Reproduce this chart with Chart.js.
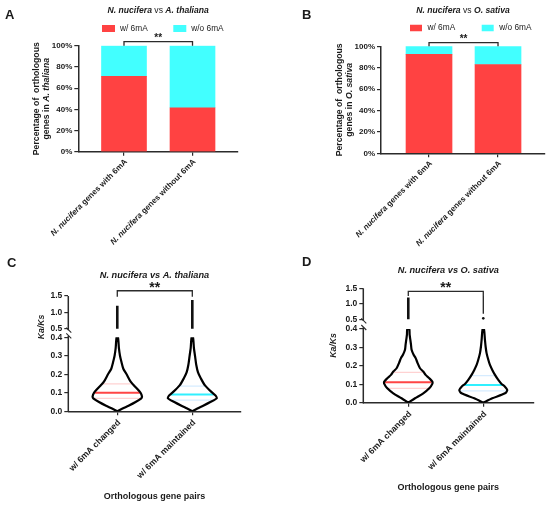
<!DOCTYPE html>
<html><head><meta charset="utf-8">
<script src="https://cdn.jsdelivr.net/npm/chart.js@4.4.1/dist/chart.umd.min.js"></script>
<style>
html,body{margin:0;padding:0;background:#fff;}
body{width:550px;height:508px;position:relative;overflow:hidden;}
canvas{position:absolute;display:block;}
</style></head><body>
<canvas id="cA" width="275" height="250" style="left:0;top:0"></canvas>
<canvas id="cB" width="275" height="250" style="left:275px;top:0"></canvas>
<canvas id="cC" width="275" height="258" style="left:0;top:250px"></canvas>
<canvas id="cD" width="275" height="258" style="left:275px;top:250px"></canvas>
<script>
// ---------------- data ----------------
const speciesPrefix = 'N. nucifera';
const barCategories = [' genes with 6mA', ' genes without 6mA'];
const legendLabels = ['w/ 6mA', 'w/o 6mA'];
const pctWithA = [71, 41.5];
const pctWithoutA = [29, 58.5];
const pctWithB = [92.5, 83];
const pctWithoutB = [7.5, 17];
const pctTicks = [0, 20, 40, 60, 80, 100];

const violinCategories = ['w/ 6mA changed', 'w/ 6mA maintained'];
const kaksLowTicks = [0, 0.1, 0.2, 0.3, 0.4];
const kaksHighTicks = [0.5, 1.0, 1.5];

// Panel C (A. thaliana) violin profiles: Ka/Ks level and half-width (category units)
const cLevels0 = [0, 0.015, 0.03, 0.05, 0.07, 0.08, 0.1, 0.14, 0.16, 0.2, 0.23, 0.27, 0.3, 0.34, 0.4];
const cWidths0 = [0, 0.07, 0.15, 0.244, 0.32, 0.329, 0.311, 0.222, 0.178, 0.124, 0.08, 0.053, 0.036, 0.022, 0.009];
const cLevels1 = [0, 0.015, 0.03, 0.05, 0.07, 0.085, 0.1, 0.14, 0.18, 0.21, 0.25, 0.3, 0.34, 0.4];
const cWidths1 = [0, 0.068, 0.145, 0.24, 0.324, 0.311, 0.267, 0.169, 0.111, 0.076, 0.053, 0.036, 0.022, 0.009];
const cMedians = [0.1, 0.091];
const cQ1 = [0.07, 0.06];
const cQ3 = [0.148, 0.136];
const cOutliers = [[0.5, 1.2], [0.5, 1.38]];

// Panel D (O. sativa)
const dLevels0 = [0, 0.024, 0.051, 0.078, 0.102, 0.115, 0.133, 0.151, 0.169, 0.187, 0.215, 0.242, 0.26, 0.287, 0.315, 0.342, 0.369, 0.4];
const dWidths0 = [0, 0.09, 0.2, 0.28, 0.32, 0.32, 0.28, 0.231, 0.2, 0.156, 0.124, 0.098, 0.071, 0.044, 0.036, 0.027, 0.018, 0.013];
const dLevels1 = [0, 0.024, 0.051, 0.069, 0.087, 0.102, 0.124, 0.151, 0.178, 0.205, 0.233, 0.269, 0.305, 0.342, 0.4];
const dWidths1 = [0, 0.12, 0.29, 0.32, 0.289, 0.244, 0.2, 0.156, 0.12, 0.089, 0.067, 0.044, 0.031, 0.022, 0.009];
const dMedians = [0.111, 0.096];
const dQ1 = [0.078, 0.064];
const dQ3 = [0.165, 0.147];
const dOutliers = [[0.5, 1.2], [0.68, 1.25]];
const dOutlierWidths = [2.6, 1.2];
const dOutlierDots = [null, 0.53];

// ---------------- styling helpers ----------------
const FAM = "'Liberation Sans', Arial, Helvetica, sans-serif";
const TXT = '#1a1a1a', AX = '#2b2b2b', RED = '#FF4242', CYAN = '#42FFFF';
const fnt = (st, sz) => `${st} ${sz}px ${FAM}`;
const seg = (t, s) => ({t, s});

function drawRich(ctx, segs, x, y, size, align, angle) {
  ctx.save();
  ctx.translate(x, y);
  if (angle) ctx.rotate(angle);
  let w = 0;
  for (const s of segs) { ctx.font = fnt(s.s, size); w += ctx.measureText(s.t).width; }
  let cx = align === 'center' ? -w / 2 : (align === 'right' ? -w : 0);
  ctx.textAlign = 'left'; ctx.textBaseline = 'middle'; ctx.fillStyle = TXT;
  for (const s of segs) { ctx.font = fnt(s.s, size); ctx.fillText(s.t, cx, 0); cx += ctx.measureText(s.t).width; }
  ctx.restore();
}

function panelPlugin(p) {
  return {
    id: 'panel' + p.letter,
    afterDraw(chart) {
      const ctx = chart.ctx, ca = chart.chartArea, xs = chart.scales.x;
      const yb = chart.scales[p.bracketAxis];
      const cx = (ca.left + ca.right) / 2;
      ctx.save();
      ctx.fillStyle = TXT; ctx.font = fnt('bold', 13); ctx.textAlign = 'left'; ctx.textBaseline = 'middle';
      ctx.fillText(p.letter, p.letterPos[0], p.letterPos[1]);
      drawRich(ctx, p.title, cx, p.titleY, p.titleSize, 'center');
      if (p.legend) {
        p.legend.items.forEach((it, i) => {
          ctx.fillStyle = it[1];
          ctx.fillRect(it[0], p.legend.y - p.legend.h / 2, p.legend.w, p.legend.h);
          drawRich(ctx, [seg(legendLabels[i], '')], it[0] + p.legend.dx, p.legend.y, p.legend.size, 'left');
        });
      }
      // significance bracket
      const x0 = xs.getPixelForValue(0), x1 = xs.getPixelForValue(1);
      const by = yb.getPixelForValue(p.bracket[0]), ly = yb.getPixelForValue(p.bracket[1]);
      ctx.strokeStyle = AX; ctx.lineWidth = 1.3;
      ctx.beginPath(); ctx.moveTo(x0, ly); ctx.lineTo(x0, by); ctx.lineTo(x1, by); ctx.lineTo(x1, ly); ctx.stroke();
      ctx.fillStyle = TXT; ctx.font = fnt('bold', p.starSize); ctx.textAlign = 'center'; ctx.textBaseline = 'alphabetic';
      ctx.fillText('**', (x0 + x1) / 2, by + p.starDY);
      // y title
      const ycy = p.yTitleCY != null ? p.yTitleCY : (ca.top + ca.bottom) / 2;
      p.yTitle.forEach((line, i) => drawRich(ctx, line, ca.left - p.yTitleOffsets[i], ycy, p.yTitleSize, 'center', -Math.PI / 2));
      // rotated category labels
      p.xLabels.forEach((lab, i) => drawRich(ctx, lab, xs.getPixelForValue(i) + p.xLabelDX, ca.bottom + p.xLabelDY, p.xLabelSize, 'right', -Math.PI / 4));
      if (p.xTitle) drawRich(ctx, [seg(p.xTitle, 'bold')], cx, p.xTitleY, 9, 'center');
      if (p.broken) {
        const yL = chart.scales.y, yH = chart.scales.y2, ax = ca.left;
        const e1 = yH.getPixelForValue(kaksHighTicks[0]) + 1.5, e2 = yL.getPixelForValue(kaksLowTicks[kaksLowTicks.length - 1]) - 1.5;
        ctx.strokeStyle = AX; ctx.lineWidth = 1.5;
        ctx.beginPath();
        ctx.moveTo(ax, yH.getPixelForValue(kaksHighTicks[kaksHighTicks.length - 1])); ctx.lineTo(ax, e1);
        ctx.moveTo(ax, e2); ctx.lineTo(ax, yL.getPixelForValue(0) + 0.75);
        ctx.stroke();
        ctx.lineWidth = 1.1;
        ctx.beginPath();
        ctx.moveTo(ax - 2, e1 - 2.5); ctx.lineTo(ax + 3, e1 + 2.5);
        ctx.moveTo(ax - 2, e2 - 2.5); ctx.lineTo(ax + 3, e2 + 2.5);
        ctx.stroke();
      }
      ctx.restore();
    }
  };
}

const gridOpts = {drawOnChartArea: false, drawTicks: true, tickLength: 4, color: AX, lineWidth: 1.2, offset: false};
const tickList = arr => s => { s.ticks = arr.map(v => ({value: v})); };

function barChart(id, withVals, withoutVals, g, p) {
  const el = document.getElementById(id);
  return new Chart(el, {
    type: 'bar',
    data: {datasets: [
      {label: legendLabels[0], data: withVals.map((v, i) => ({x: i, y: v})), backgroundColor: RED, barThickness: g.barW, borderWidth: 0},
      {label: legendLabels[1], data: withoutVals.map((v, i) => ({x: i, y: v})), backgroundColor: CYAN, barThickness: g.barW, borderWidth: 0}
    ]},
    options: {
      responsive: false, animation: false, events: [],
      layout: {padding: {left: 0, top: g.top, right: el.width - g.right, bottom: 0}},
      plugins: {legend: {display: false}, tooltip: {enabled: false}},
      scales: {
        x: {type: 'linear', offset: false, stacked: true, min: g.xmin, max: g.xmax, afterBuildTicks: tickList([0, 1]),
            ticks: {display: false}, grid: gridOpts, border: {color: AX, width: 1.5},
            afterFit: s => { s.height = el.height - g.bottom; }},
        y: {stacked: true, min: 0, max: 100, afterBuildTicks: tickList(pctTicks),
            ticks: {callback: v => v + '%', font: {family: FAM, size: 8, weight: 'bold'}, color: TXT, padding: 2, autoSkip: false},
            grid: gridOpts, border: {color: AX, width: 1.5},
            afterFit: s => { s.width = g.left; }}
      }
    },
    plugins: [panelPlugin(p)]
  });
}

function halfAt(levels, widths, v) {
  for (let i = 1; i < levels.length; i++) {
    if (v <= levels[i]) { const t = (v - levels[i - 1]) / (levels[i] - levels[i - 1]); return widths[i - 1] + t * (widths[i] - widths[i - 1]); }
  }
  return widths[widths.length - 1];
}

function violinSets(center, levels, widths, med, q1, q3, medCol, qCol) {
  const pts = levels.map((v, i) => ({x: center + widths[i], y: v}));
  for (let i = levels.length - 1; i >= 0; i--) pts.push({x: center - widths[i], y: levels[i]});
  const hl = v => { const h = halfAt(levels, widths, v) - 0.01; return [{x: center - h, y: v}, {x: center + h, y: v}]; };
  const base = {showLine: true, pointRadius: 0, yAxisID: 'y'};
  return [
    Object.assign({data: pts, borderColor: '#000', borderWidth: 2.2, tension: 0.25, order: 0}, base),
    Object.assign({data: hl(med), borderColor: medCol, borderWidth: 2, order: 1}, base),
    Object.assign({data: hl(q1), borderColor: qCol, borderWidth: 1.2, order: 2}, base),
    Object.assign({data: hl(q3), borderColor: qCol, borderWidth: 1.2, order: 2}, base)
  ];
}

function outlierSet(center, range, width) {
  return {data: [{x: center, y: range[0]}, {x: center, y: range[1]}], showLine: true, pointRadius: 0,
          borderColor: '#111', borderWidth: width, yAxisID: 'y2', order: 0};
}

function violinChart(id, sets, g, p) {
  const el = document.getElementById(id);
  const yTick = {callback: v => Number(v).toFixed(1), font: {family: FAM, size: 8.5, weight: 'bold'}, color: TXT, padding: 2, autoSkip: false};
  return new Chart(el, {
    type: 'scatter',
    data: {datasets: sets},
    options: {
      responsive: false, animation: false, events: [],
      layout: {padding: {left: 0, top: g.top, right: el.width - g.right, bottom: 0}},
      plugins: {legend: {display: false}, tooltip: {enabled: false}},
      scales: {
        x: {type: 'linear', offset: false, min: g.xmin, max: g.xmax, afterBuildTicks: tickList([0, 1]),
            ticks: {display: false}, grid: gridOpts, border: {color: AX, width: 1.5},
            afterFit: s => { s.height = el.height - g.bottom; }},
        y: {type: 'linear', position: 'left', stack: 'kaks', stackWeight: g.lowH, min: 0, max: 0.4,
            afterBuildTicks: tickList(kaksLowTicks), ticks: yTick, grid: gridOpts, border: {display: false},
            afterFit: s => { s.width = g.left; }},
        y2: {type: 'linear', position: 'left', stack: 'kaks', stackWeight: g.highH, min: g.highMin, max: 1.5,
            afterBuildTicks: tickList(kaksHighTicks), ticks: yTick, grid: gridOpts, border: {display: false},
            afterFit: s => { s.width = g.left; }}
      }
    },
    plugins: [panelPlugin(p)]
  });
}

// ---------------- panels ----------------
const barXLabels = barCategories.map(c => [seg(speciesPrefix, 'bold italic'), seg(c, 'bold')]);
const vXLabels = violinCategories.map(c => [seg(c, 'bold')]);

barChart('cA', pctWithA, pctWithoutA,
  {top: 45.7, bottom: 151.7, left: 78.3, right: 238, xmin: -0.667, xmax: 1.664, barW: 45},
  {letter: 'A', letterPos: [5, 15], titleY: 11, titleSize: 8.6,
   title: [seg('N. nucifera', 'bold italic'), seg(' vs ', ''), seg('A. thaliana', 'bold italic')],
   legend: {y: 28.5, w: 13, h: 7, dx: 18, size: 8.3, items: [[102, RED], [173.3, CYAN]]},
   bracketAxis: 'y', bracket: [103.8, 100], starSize: 10, starDY: -0.5,
   yTitle: [[seg('Percentage of  orthologous', 'bold')], [seg('genes in ', 'bold'), seg('A. thaliana', 'bold italic')]],
   yTitleOffsets: [41.5, 31.5], yTitleSize: 8.7,
   xLabels: barXLabels, xLabelDX: 2, xLabelDY: 9, xLabelSize: 8});

barChart('cB', pctWithB, pctWithoutB,
  {top: 46.3, bottom: 153.3, left: 106, right: 270, xmin: -0.696, xmax: 1.681, barW: 46},
  {letter: 'B', letterPos: [27, 15], titleY: 11, titleSize: 8.6,
   title: [seg('N. nucifera', 'bold italic'), seg(' vs ', ''), seg('O. sativa', 'bold italic')],
   legend: {y: 28, w: 12, h: 6.5, dx: 17.5, size: 8.3, items: [[135, RED], [206.7, CYAN]]},
   bracketAxis: 'y', bracket: [103.4, 100], starSize: 10, starDY: -0.5,
   yTitle: [[seg('Percentage of  orthologous', 'bold')], [seg('genes in ', 'bold'), seg('O. sativa', 'bold italic')]],
   yTitleOffsets: [41.5, 31.5], yTitleSize: 8.7,
   xLabels: barXLabels, xLabelDX: 2, xLabelDY: 9, xLabelSize: 8});

violinChart('cC', [
    outlierSet(0, cOutliers[0], 2.6), outlierSet(1, cOutliers[1], 2.6),
    ...violinSets(0, cLevels0, cWidths0, cMedians[0], cQ1[0], cQ3[0], '#FF4545', '#FFD2D2'),
    ...violinSets(1, cLevels1, cWidths1, cMedians[1], cQ1[1], cQ3[1], '#30F0FF', '#D6ECFF')
  ],
  {top: 46, bottom: 161.3, left: 68.3, right: 240.7, lowH: 74, highH: 41.3, highMin: 0.237, xmin: -0.653, xmax: 1.645},
  {letter: 'C', letterPos: [7, 13], titleY: 25, titleSize: 9.2,
   title: [seg('N. nucifera vs A. thaliana', 'bold italic')],
   bracketAxis: 'y2', bracket: [1.66, 1.48], starSize: 14, starDY: 1,
   yTitle: [[seg('Ka/Ks', 'bold italic')]], yTitleOffsets: [27], yTitleSize: 8.7, yTitleCY: 77,
   xLabels: vXLabels, xLabelDX: 2, xLabelDY: 10, xLabelSize: 8.7,
   xTitle: 'Orthologous gene pairs', xTitleY: 247, broken: true});

violinChart('cD', [
    outlierSet(0, dOutliers[0], dOutlierWidths[0]), outlierSet(1, dOutliers[1], dOutlierWidths[1]),
    {data: dOutlierDots.map((v, i) => v == null ? null : {x: i, y: v}).filter(Boolean), showLine: false, pointRadius: 1.3,
     pointBackgroundColor: '#111', pointBorderWidth: 0, yAxisID: 'y2', order: 0},
    ...violinSets(0, dLevels0, dWidths0, dMedians[0], dQ1[0], dQ3[0], '#FF4545', '#FFD2D2'),
    ...violinSets(1, dLevels1, dWidths1, dMedians[1], dQ1[1], dQ3[1], '#30F0FF', '#D6ECFF')
  ],
  {top: 38.3, bottom: 152.7, left: 88.3, right: 258.3, lowH: 73.7, highH: 40.7, highMin: 0.187, xmin: -0.6, xmax: 1.667},
  {letter: 'D', letterPos: [27, 12], titleY: 20, titleSize: 9.2,
   title: [seg('N. nucifera vs O. sativa', 'bold italic')],
   bracketAxis: 'y2', bracket: [1.4, 1.25], starSize: 14, starDY: 1,
   yTitle: [[seg('Ka/Ks', 'bold italic')]], yTitleOffsets: [30], yTitleSize: 8.7,
   xLabels: vXLabels, xLabelDX: 2, xLabelDY: 10, xLabelSize: 8.7,
   xTitle: 'Orthologous gene pairs', xTitleY: 238, broken: true});
</script></body></html>
